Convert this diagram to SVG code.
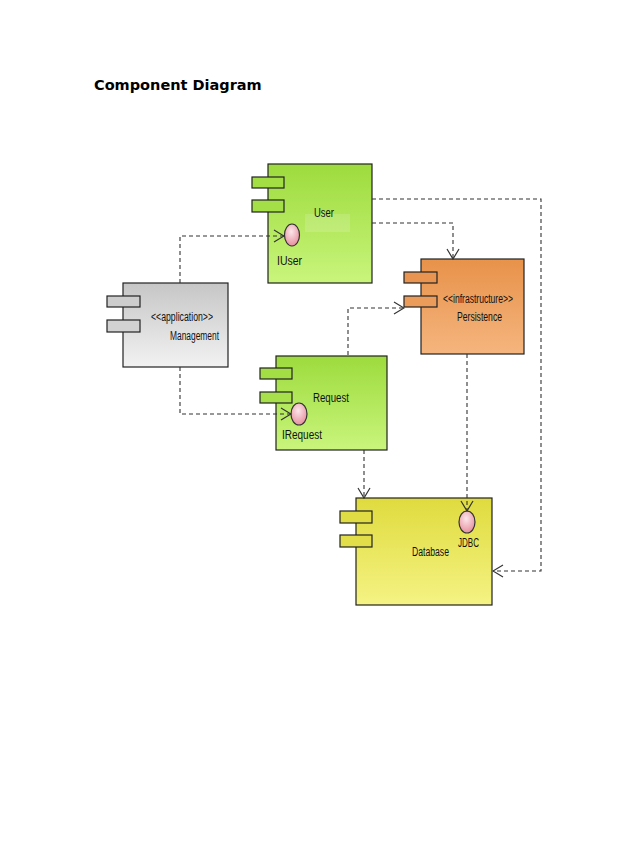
<svg xmlns="http://www.w3.org/2000/svg" width="638" height="852" viewBox="0 0 638 852">
<defs>
<linearGradient id="gGreen" x1="0" y1="0" x2="0" y2="1"><stop offset="0" stop-color="#9ddb3d"/><stop offset="1" stop-color="#c9f57c"/></linearGradient>
<linearGradient id="gGray" x1="0" y1="0" x2="0" y2="1"><stop offset="0" stop-color="#c6c6c6"/><stop offset="1" stop-color="#f2f2f2"/></linearGradient>
<linearGradient id="gOrange" x1="0" y1="0" x2="0" y2="1"><stop offset="0" stop-color="#e8924a"/><stop offset="1" stop-color="#f5b57e"/></linearGradient>
<linearGradient id="gYellow" x1="0" y1="0" x2="0" y2="1"><stop offset="0" stop-color="#dfdb3e"/><stop offset="1" stop-color="#f5f384"/></linearGradient>
<radialGradient id="gPink" cx="0.45" cy="0.35" r="0.7"><stop offset="0" stop-color="#fbe6ea"/><stop offset="1" stop-color="#e6899a"/></radialGradient>
<marker id="arr" markerWidth="12" markerHeight="14" refX="11" refY="7" orient="auto" markerUnits="userSpaceOnUse"><path d="M1,1 L11,7 L1,13" fill="none" stroke="#333" stroke-width="1.2"/></marker>
</defs>
<style>
.box{stroke:#222;stroke-width:1.2}
.port{stroke:#222;stroke-width:1.2}
.ifc{fill:url(#gPink);stroke:#333;stroke-width:1.2}
.lbl{font-family:"Liberation Sans Narrow","Liberation Sans",sans-serif;font-size:12px;fill:#111}
.conn{fill:none;stroke:#333;stroke-width:1.1;stroke-dasharray:4 3;marker-end:url(#arr)}
.title{font-family:"DejaVu Sans",Verdana,sans-serif;font-weight:bold;font-size:14.5px;fill:#000}
</style>
<rect width="638" height="852" fill="#fff"/>
<text class="title" x="94" y="90">Component Diagram</text>

<g id="user">
<rect class="box" x="268" y="164" width="104" height="119" fill="url(#gGreen)"/>
<rect x="305" y="214" width="45" height="18" fill="#fff" opacity="0.15"/>
<rect class="port" x="252" y="177" width="32" height="11" fill="#a2de44"/>
<rect class="port" x="252" y="200" width="32" height="12" fill="#a5df48"/>
<ellipse class="ifc" cx="292" cy="235" rx="7.5" ry="11"/>
<text class="lbl" x="314" y="217" textLength="20" lengthAdjust="spacingAndGlyphs">User</text>
<text class="lbl" x="277" y="265" textLength="25" lengthAdjust="spacingAndGlyphs">IUser</text>
</g>

<g id="management">
<rect class="box" x="123" y="283" width="105" height="84" fill="url(#gGray)"/>
<rect class="port" x="107" y="296" width="33" height="11" fill="#cdcdcd"/>
<rect class="port" x="107" y="320" width="33" height="12" fill="#d2d2d2"/>
<text class="lbl" x="151" y="321" textLength="62" lengthAdjust="spacingAndGlyphs">&lt;&lt;application&gt;&gt;</text>
<text class="lbl" x="170" y="340" textLength="49" lengthAdjust="spacingAndGlyphs">Management</text>
</g>

<g id="request">
<rect class="box" x="276" y="356" width="111" height="94" fill="url(#gGreen)"/>
<rect class="port" x="260" y="368" width="32" height="11" fill="#a2de44"/>
<rect class="port" x="260" y="392" width="32" height="11" fill="#a8e04c"/>
<ellipse class="ifc" cx="299" cy="414" rx="8" ry="11"/>
<text class="lbl" x="313" y="402" textLength="36" lengthAdjust="spacingAndGlyphs">Request</text>
<text class="lbl" x="282" y="439" textLength="40" lengthAdjust="spacingAndGlyphs">IRequest</text>
</g>

<g id="persistence">
<rect class="box" x="421" y="259" width="103" height="95" fill="url(#gOrange)"/>
<rect class="port" x="404" y="272" width="33" height="11" fill="#e99450"/>
<rect class="port" x="404" y="296" width="33" height="11" fill="#eb9c5a"/>
<text class="lbl" x="443" y="303" textLength="70" lengthAdjust="spacingAndGlyphs">&lt;&lt;infrastructure&gt;&gt;</text>
<text class="lbl" x="457" y="321" textLength="45" lengthAdjust="spacingAndGlyphs">Persistence</text>
</g>

<g id="database">
<rect class="box" x="356" y="498" width="136" height="107" fill="url(#gYellow)"/>
<rect class="port" x="340" y="511" width="32" height="12" fill="#e0dc44"/>
<rect class="port" x="340" y="535" width="32" height="12" fill="#e2de4a"/>
<ellipse class="ifc" cx="467" cy="522" rx="8" ry="11"/>
<text class="lbl" x="458" y="547" textLength="21" lengthAdjust="spacingAndGlyphs">JDBC</text>
<text class="lbl" x="412" y="556" textLength="37" lengthAdjust="spacingAndGlyphs">Database</text>
</g>

<g id="connectors">
<path class="conn" d="M372,199 H541 V571 H493"/>
<path class="conn" d="M372,223 H453 V259"/>
<path class="conn" d="M180,283 V236 H284"/>
<path class="conn" d="M180,367 V414 H291"/>
<path class="conn" d="M348,355 V308 H404"/>
<path class="conn" d="M364,450 V498"/>
<path class="conn" d="M467,354 V511"/>
</g>
</svg>
